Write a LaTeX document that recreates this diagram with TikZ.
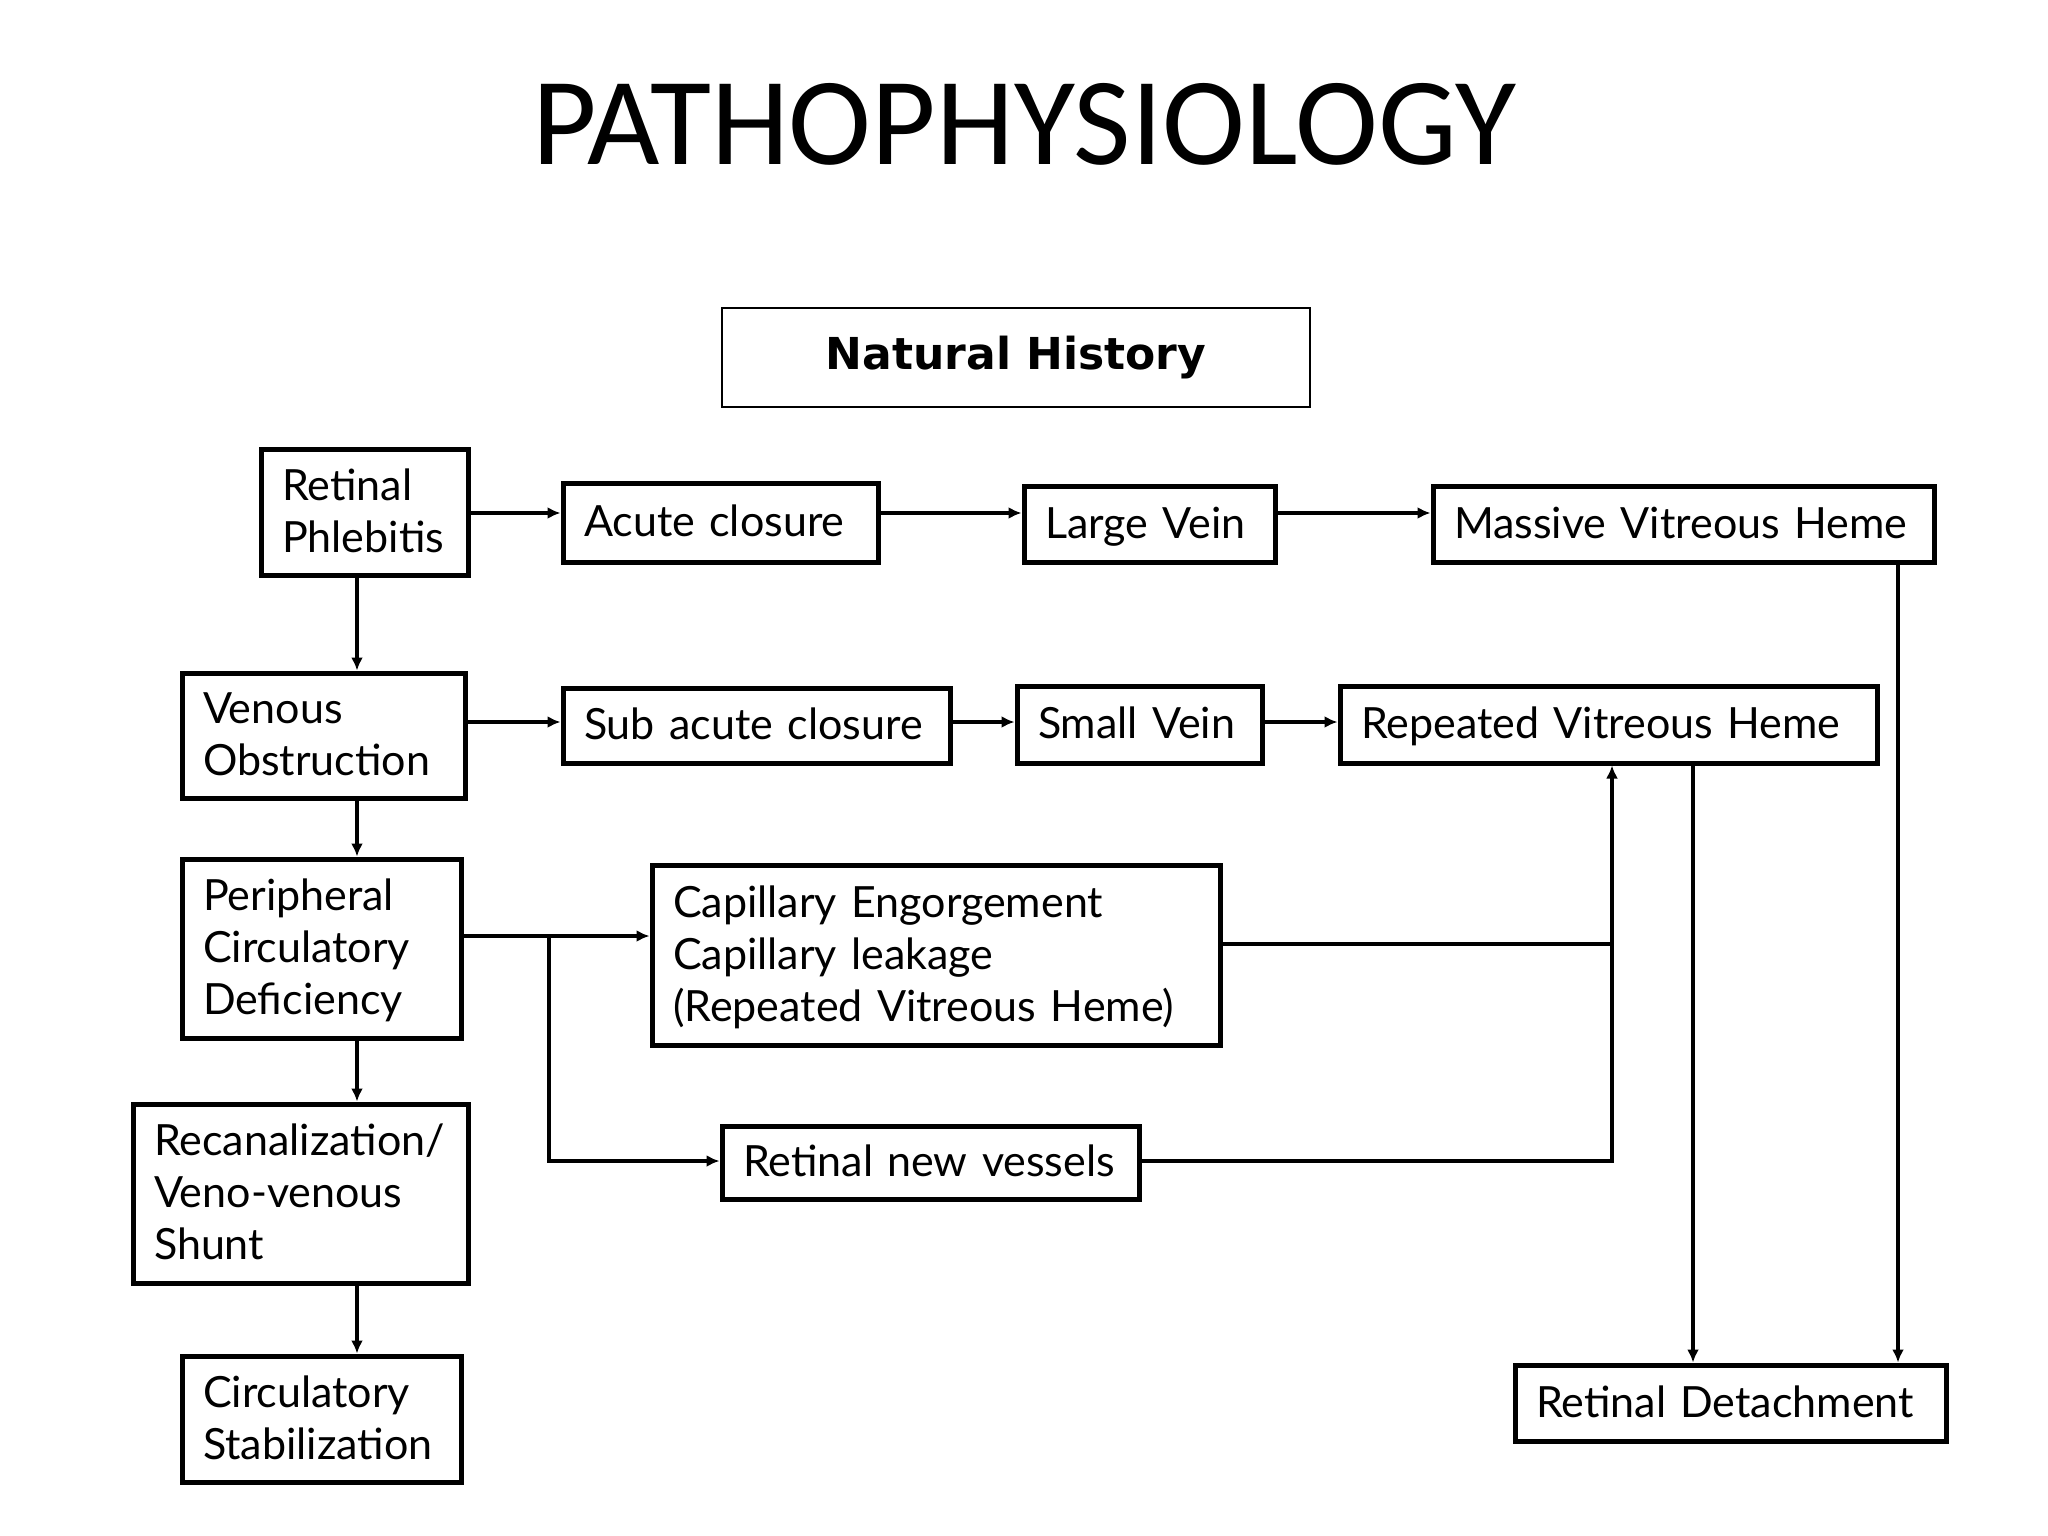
\documentclass[tikz,border=0pt]{standalone}
\usepackage{fontspec}
\setmainfont{Lato}
\newfontfamily\titlefont{Carlito}
\newfontfamily\nhfont{DejaVu Sans}
\usetikzlibrary{arrows.meta}
\begin{document}
\begin{tikzpicture}[x=1pt,y=-1pt,
  box/.style={draw, line width=5pt, inner xsep=21pt, inner ysep=0pt, align=left,
    font=\fontsize{43}{52}\selectfont, anchor=center},
  arr/.style={line width=4.5pt, -{Latex[length=13pt,width=12pt]}},
  ln/.style={line width=4.5pt}]
\newcommand\bx[7][]{%
  \pgfmathsetmacro\bw{#5-#3}\pgfmathsetmacro\bh{#6-#4}\pgfmathsetmacro\tw{#5-#3-42}%
  \pgfmathsetmacro\cx{(#3+#5)/2}\pgfmathsetmacro\cy{(#4+#6)/2}%
  \node[box, minimum width=\bw pt, minimum height=\bh pt, text width=\tw pt, #1] (#2) at (\cx,\cy)
    {\raisebox{0pt}[\dimexpr\height+8pt\relax][\depth]{\begin{tabular}{@{}l@{}}#7\end{tabular}}};}
\useasboundingbox (0,0) rectangle (2048,1536);
\fill[white] (0,0) rectangle (2048,1536);
\node[font=\titlefont\fontsize{125}{150}\selectfont] (title) at (1024,124) {PATHOPHYSIOLOGY};

\node[draw, line width=2.5pt, minimum width=588pt, minimum height=99pt, inner sep=0pt,
  font=\nhfont\bfseries\fontsize{44}{50}\selectfont] (NH) at (1016,357.5) {Natural History};
\bx{RP}{261}{449}{468}{575}{Retinal\\Phlebitis}
\bx{AC}{563}{483}{878}{562}{Acute closure}
\bx{LV}{1024}{486}{1275}{562}{Large Vein}
\bx{MV}{1433}{486}{1934}{562}{Massive Vitreous Heme}
\bx{VO}{182}{673}{465}{798}{Venous\\Obstruction}
\bx{SA}{563}{688}{950}{763}{Sub acute closure}
\bx{SV}{1017}{686}{1262}{763}{Small Vein}
\bx{RV}{1340}{686}{1877}{763}{Repeated Vitreous Heme}
\bx{PC}{182}{859}{461}{1038}{Peripheral\\Circulatory\\Deficiency}
\bx{CE}{652}{865}{1220}{1045}{Capillary Engorgement\\Capillary leakage\\(Repeated Vitreous Heme)}
\bx{RC}{133}{1104}{468}{1283}{Recanalization/\\Veno-venous\\Shunt}
\bx{RN}{722}{1126}{1139}{1199}{Retinal new vessels}
\bx{CS}{182}{1356}{461}{1482}{Circulatory\\Stabilization}
\bx{RD}{1515}{1365}{1946}{1441}{Retinal Detachment}

\coordinate (r1) at (0,513);
\coordinate (r2) at (0,722);
\coordinate (r3) at (0,936);
\coordinate (r4) at (0,944);
\coordinate (r5) at (0,1161);
\coordinate (vx) at (357,0);
\coordinate (bx) at (549,0);
\coordinate (cx) at (1612,0);
\coordinate (dx) at (1693,0);
\coordinate (ex) at (1898,0);

\draw[arr] (RP.east |- r1) -- (AC.west |- r1);
\draw[arr] (AC.east |- r1) -- (LV.west |- r1);
\draw[arr] (LV.east |- r1) -- (MV.west |- r1);
\draw[arr] (VO.east |- r2) -- (SA.west |- r2);
\draw[arr] (SA.east |- r2) -- (SV.west |- r2);
\draw[arr] (SV.east |- r2) -- (RV.west |- r2);
\draw[arr] (vx |- RP.south) -- (vx |- VO.north);
\draw[arr] (vx |- VO.south) -- (vx |- PC.north);
\draw[arr] (vx |- PC.south) -- (vx |- RC.north);
\draw[arr] (vx |- RC.south) -- (vx |- CS.north);
\draw[arr] (PC.east |- r3) -- (CE.west |- r3);
\draw[arr] (bx |- r3) -- (bx |- r5) -- (RN.west |- r5);
\draw[ln] (CE.east |- r4) -- (cx |- r4);
\draw[arr] (RN.east |- r5) -- (cx |- r5) -- (cx |- RV.south);
\draw[arr] (dx |- RV.south) -- (dx |- RD.north);
\draw[arr] (ex |- MV.south) -- (ex |- RD.north);
\end{tikzpicture}
\end{document}
